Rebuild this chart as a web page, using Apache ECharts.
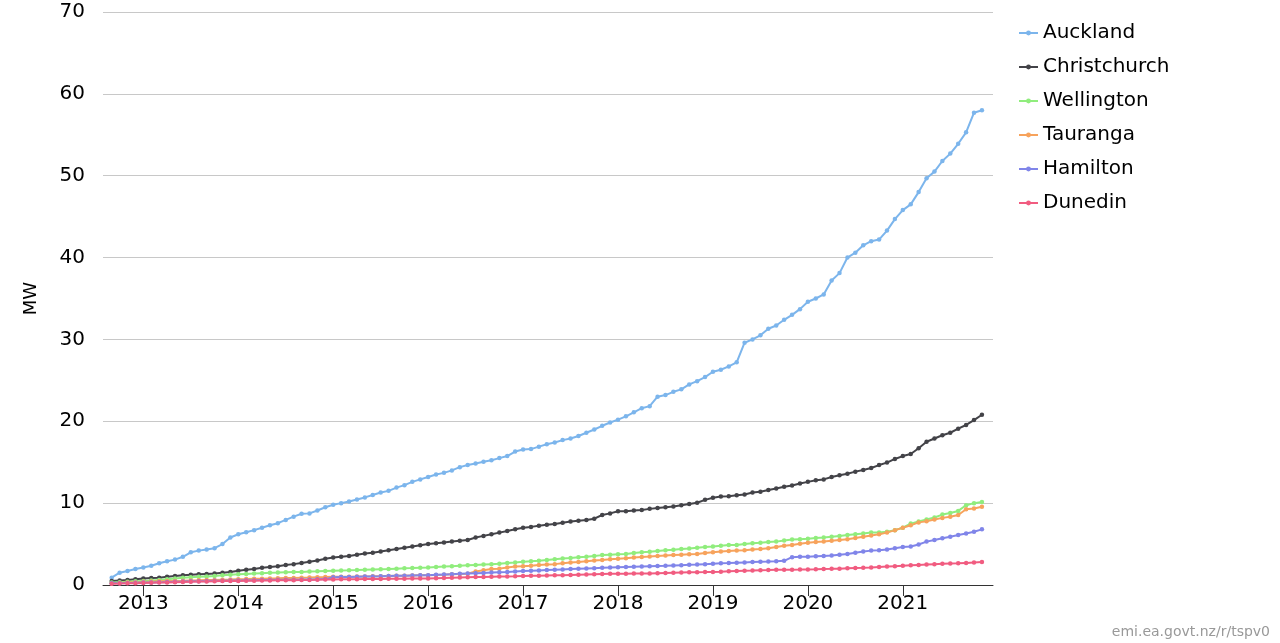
<!DOCTYPE html>
<html>
<head>
<meta charset="utf-8">
<script src="https://cdn.jsdelivr.net/npm/echarts@6/dist/echarts.min.js"></script>
<style>
html,body{margin:0;padding:0;background:#fff;}
#chart{width:1280px;height:643px;}
</style>
</head>
<body>
<div id="chart"></div>
<script>
// Monthly series, first month Sep 2012, last month Nov 2021
const firstYear = 2012, firstMonth = 9; // September 2012
const yearTicks = [2013, 2014, 2015, 2016, 2017, 2018, 2019, 2020, 2021];
const seriesNames = ['Auckland', 'Christchurch', 'Wellington', 'Tauranga', 'Hamilton', 'Dunedin'];

const auckland = [
  0.9, 1.5, 1.7, 1.95, 2.15, 2.35, 2.65, 2.9, 3.1, 3.45,
  4.0, 4.2, 4.35, 4.5, 5.0, 5.8, 6.2, 6.45, 6.7, 7.0,
  7.3, 7.55, 7.95, 8.35, 8.7, 8.75, 9.1, 9.5, 9.8, 10.0,
  10.2, 10.45, 10.7, 11.0, 11.3, 11.5, 11.9, 12.2, 12.6, 12.9,
  13.2, 13.5, 13.7, 14.0, 14.4, 14.65, 14.85, 15.05, 15.25, 15.5,
  15.75, 16.3, 16.55, 16.6, 16.9, 17.2, 17.4, 17.7, 17.9, 18.2,
  18.6, 19.0, 19.45, 19.85, 20.2, 20.6, 21.1, 21.6, 21.85, 23.0,
  23.2, 23.6, 23.9, 24.5, 24.9, 25.4, 26.05, 26.3, 26.7, 27.2,
  29.6, 30.0, 30.5, 31.3, 31.7, 32.4, 33.0, 33.7, 34.6, 35.0,
  35.5, 37.2, 38.1, 40.0, 40.6, 41.5, 42.0, 42.2, 43.3, 44.7,
  45.8, 46.5, 48.0, 49.7, 50.5, 51.8, 52.7, 53.9, 55.3, 57.7, 58.0
];
const christchurch = [
  0.5, 0.55, 0.6, 0.7, 0.8, 0.85, 0.9, 1.0, 1.1, 1.2,
  1.25, 1.3, 1.35, 1.4, 1.5, 1.6, 1.75, 1.85, 1.95, 2.1,
  2.2, 2.3, 2.45, 2.55, 2.7, 2.85, 3.0, 3.2, 3.35, 3.45,
  3.55, 3.7, 3.85, 3.95, 4.1, 4.25, 4.4, 4.55, 4.7, 4.85,
  5.0, 5.1, 5.2, 5.3, 5.4, 5.5, 5.8, 6.0, 6.2, 6.4,
  6.6, 6.8, 7.0, 7.1, 7.25, 7.35, 7.45, 7.6, 7.75, 7.85,
  7.95, 8.1, 8.55, 8.75, 9.0, 9.0, 9.1, 9.15, 9.3, 9.4,
  9.5, 9.6, 9.75, 9.9, 10.05, 10.4, 10.65, 10.8, 10.85, 10.95,
  11.05, 11.3, 11.4, 11.6, 11.8, 12.0, 12.15, 12.4, 12.6, 12.8,
  12.9, 13.2, 13.4, 13.6, 13.85, 14.05, 14.3, 14.65, 14.95, 15.4,
  15.75, 16.0, 16.7, 17.5, 17.9, 18.3, 18.6, 19.1, 19.55, 20.15, 20.8
];
const wellington = [
  0.3, 0.35, 0.4, 0.45, 0.5, 0.55, 0.6, 0.7, 0.8, 0.9,
  0.95, 1.0, 1.05, 1.1, 1.2, 1.25, 1.3, 1.35, 1.4, 1.45,
  1.5, 1.52, 1.55, 1.58, 1.6, 1.65, 1.68, 1.72, 1.75, 1.78,
  1.8, 1.83, 1.87, 1.9, 1.93, 1.95, 2.0, 2.05, 2.08, 2.12,
  2.15, 2.2, 2.25, 2.3, 2.35, 2.4, 2.45, 2.5, 2.55, 2.6,
  2.7, 2.75, 2.85, 2.9, 2.95, 3.05, 3.15, 3.25, 3.3, 3.4,
  3.45, 3.55, 3.65, 3.7, 3.75, 3.8, 3.9, 4.0, 4.05, 4.15,
  4.25, 4.3, 4.4, 4.45, 4.55, 4.65, 4.7, 4.8, 4.9, 4.9,
  5.0, 5.1, 5.15, 5.25, 5.3, 5.45, 5.55, 5.6, 5.65, 5.75,
  5.8, 5.9, 6.0, 6.1, 6.2, 6.3, 6.4, 6.4, 6.5, 6.7,
  7.0, 7.5, 7.75, 8.0, 8.25, 8.6, 8.8, 9.05, 9.75, 10.0, 10.15
];
const tauranga = [
  0.2, 0.25, 0.3, 0.35, 0.4, 0.42, 0.45, 0.48, 0.5, 0.52,
  0.55, 0.57, 0.6, 0.62, 0.65, 0.67, 0.7, 0.72, 0.75, 0.77,
  0.8, 0.82, 0.85, 0.87, 0.9, 0.92, 0.95, 0.97, 1.0, 1.0,
  1.02, 1.03, 1.05, 1.07, 1.08, 1.1, 1.12, 1.14, 1.16, 1.18,
  1.2, 1.22, 1.25, 1.3, 1.33, 1.37, 1.65, 1.8, 1.95, 2.0,
  2.15, 2.25, 2.3, 2.35, 2.45, 2.5, 2.55, 2.65, 2.75, 2.8,
  2.9, 3.0, 3.05, 3.15, 3.2, 3.28, 3.35, 3.42, 3.48, 3.55,
  3.6, 3.65, 3.7, 3.75, 3.8, 3.9, 4.0, 4.1, 4.15, 4.2,
  4.25, 4.35, 4.4, 4.5, 4.65, 4.8, 4.9, 5.05, 5.15, 5.25,
  5.3, 5.4, 5.5, 5.6, 5.75, 5.9, 6.05, 6.2, 6.4, 6.7,
  7.0, 7.3, 7.65, 7.8, 8.0, 8.2, 8.35, 8.55, 9.25, 9.35, 9.55
];
const hamilton = [
  0.2, 0.22, 0.25, 0.27, 0.3, 0.32, 0.35, 0.37, 0.4, 0.42,
  0.45, 0.47, 0.49, 0.51, 0.53, 0.55, 0.56, 0.58, 0.59, 0.61,
  0.62, 0.63, 0.64, 0.65, 0.66, 0.68, 0.7, 0.72, 0.95, 0.97,
  0.99, 1.01, 1.03, 1.05, 1.07, 1.1, 1.12, 1.14, 1.16, 1.18,
  1.2, 1.24, 1.28, 1.32, 1.36, 1.4, 1.44, 1.48, 1.52, 1.56,
  1.6, 1.65, 1.7, 1.74, 1.78, 1.82, 1.86, 1.9, 1.94, 1.98,
  2.02, 2.06, 2.1, 2.13, 2.16, 2.19, 2.22, 2.25, 2.28, 2.31,
  2.34, 2.38, 2.42, 2.46, 2.5, 2.55, 2.6, 2.65, 2.68, 2.72,
  2.76, 2.8, 2.83, 2.86, 2.9, 2.95, 3.4, 3.45, 3.45, 3.5,
  3.55, 3.6, 3.7, 3.8, 3.95, 4.1, 4.2, 4.25, 4.35, 4.5,
  4.65, 4.7, 4.95, 5.3, 5.5, 5.7, 5.9, 6.1, 6.3, 6.5, 6.8
];
const dunedin = [
  0.15, 0.17, 0.2, 0.22, 0.25, 0.27, 0.3, 0.32, 0.35, 0.37,
  0.4, 0.42, 0.44, 0.46, 0.48, 0.5, 0.5, 0.52, 0.53, 0.55,
  0.56, 0.57, 0.58, 0.59, 0.6, 0.62, 0.64, 0.66, 0.68, 0.69,
  0.7, 0.71, 0.72, 0.73, 0.74, 0.75, 0.76, 0.77, 0.78, 0.79,
  0.8, 0.83, 0.86, 0.89, 0.92, 0.95, 0.97, 0.99, 1.01, 1.03,
  1.05, 1.07, 1.1, 1.12, 1.14, 1.16, 1.18, 1.2, 1.23, 1.26,
  1.29, 1.32, 1.35, 1.36, 1.37, 1.38, 1.39, 1.4, 1.42, 1.45,
  1.48, 1.51, 1.54, 1.56, 1.57, 1.58, 1.6, 1.63, 1.67, 1.71,
  1.75, 1.77, 1.8, 1.82, 1.85, 1.86, 1.87, 1.88, 1.9, 1.92,
  1.95, 1.97, 2.0, 2.04, 2.08, 2.11, 2.15, 2.2, 2.25, 2.3,
  2.35, 2.4, 2.45, 2.5, 2.55, 2.59, 2.62, 2.65, 2.7, 2.75, 2.8
];

const colors = ['#7cb5ec', '#434348', '#90ed7d', '#f7a35c', '#8085e9', '#f15c80'];
const allData = [auckland, christchurch, wellington, tauranga, hamilton, dunedin];

// x position = months since January 2013
const baseYear = yearTicks[0];
function monthPos(i) { return (firstYear - baseYear) * 12 + (firstMonth - 1) + i; }
const tickPositions = yearTicks.map(y => (y - baseYear) * 12);

const FONT = 'DejaVu Sans';
const chart = echarts.init(document.getElementById('chart'), null, { renderer: 'canvas' });

chart.setOption({
  animation: false,
  backgroundColor: '#ffffff',
  color: colors,
  textStyle: { fontFamily: FONT },
  grid: { left: 103, right: 287, top: 12, bottom: 58, containLabel: false },
  legend: {
    orient: 'vertical',
    left: 1013,
    top: 18,
    itemWidth: 19,
    itemHeight: 6,
    itemGap: 14,
    textStyle: { fontFamily: FONT, fontSize: 20, color: '#000', lineHeight: 20 },
    data: seriesNames
  },
  xAxis: {
    type: 'value',
    min: -5.1,
    max: 107.4,
    splitLine: { show: false },
    axisLine: { show: true, lineStyle: { color: '#333', width: 1 } },
    axisTick: { show: true, length: 11, customValues: tickPositions, lineStyle: { color: '#333' } },
    axisLabel: {
      customValues: tickPositions,
      fontFamily: FONT, fontSize: 20, color: '#000', margin: 9,
      formatter: v => String(baseYear + Math.round(v / 12))
    }
  },
  yAxis: {
    type: 'value',
    min: 0, max: 70, interval: 10,
    name: 'MW',
    nameLocation: 'middle',
    nameRotate: 90,
    nameGap: 63,
    nameTextStyle: { fontFamily: FONT, fontSize: 18, color: '#000' },
    axisLine: { show: false },
    axisTick: { show: false },
    axisLabel: { fontFamily: FONT, fontSize: 20, color: '#000', margin: 18 },
    splitLine: { show: true, lineStyle: { color: '#c8c8c8', width: 1 } }
  },
  graphic: [{
    type: 'text',
    right: 10,
    top: 625,
    style: { text: 'emi.ea.govt.nz/r/tspv0', fill: '#999', font: '14px "DejaVu Sans"' }
  }],
  series: seriesNames.map((name, k) => ({
    name: name,
    type: 'line',
    data: allData[k].map((v, i) => [monthPos(i), v]),
    symbol: 'circle',
    symbolSize: 4.5,
    showSymbol: true,
    lineStyle: { width: 2, color: colors[k] },
    itemStyle: { color: colors[k] }
  }))
});
</script>
</body>
</html>
